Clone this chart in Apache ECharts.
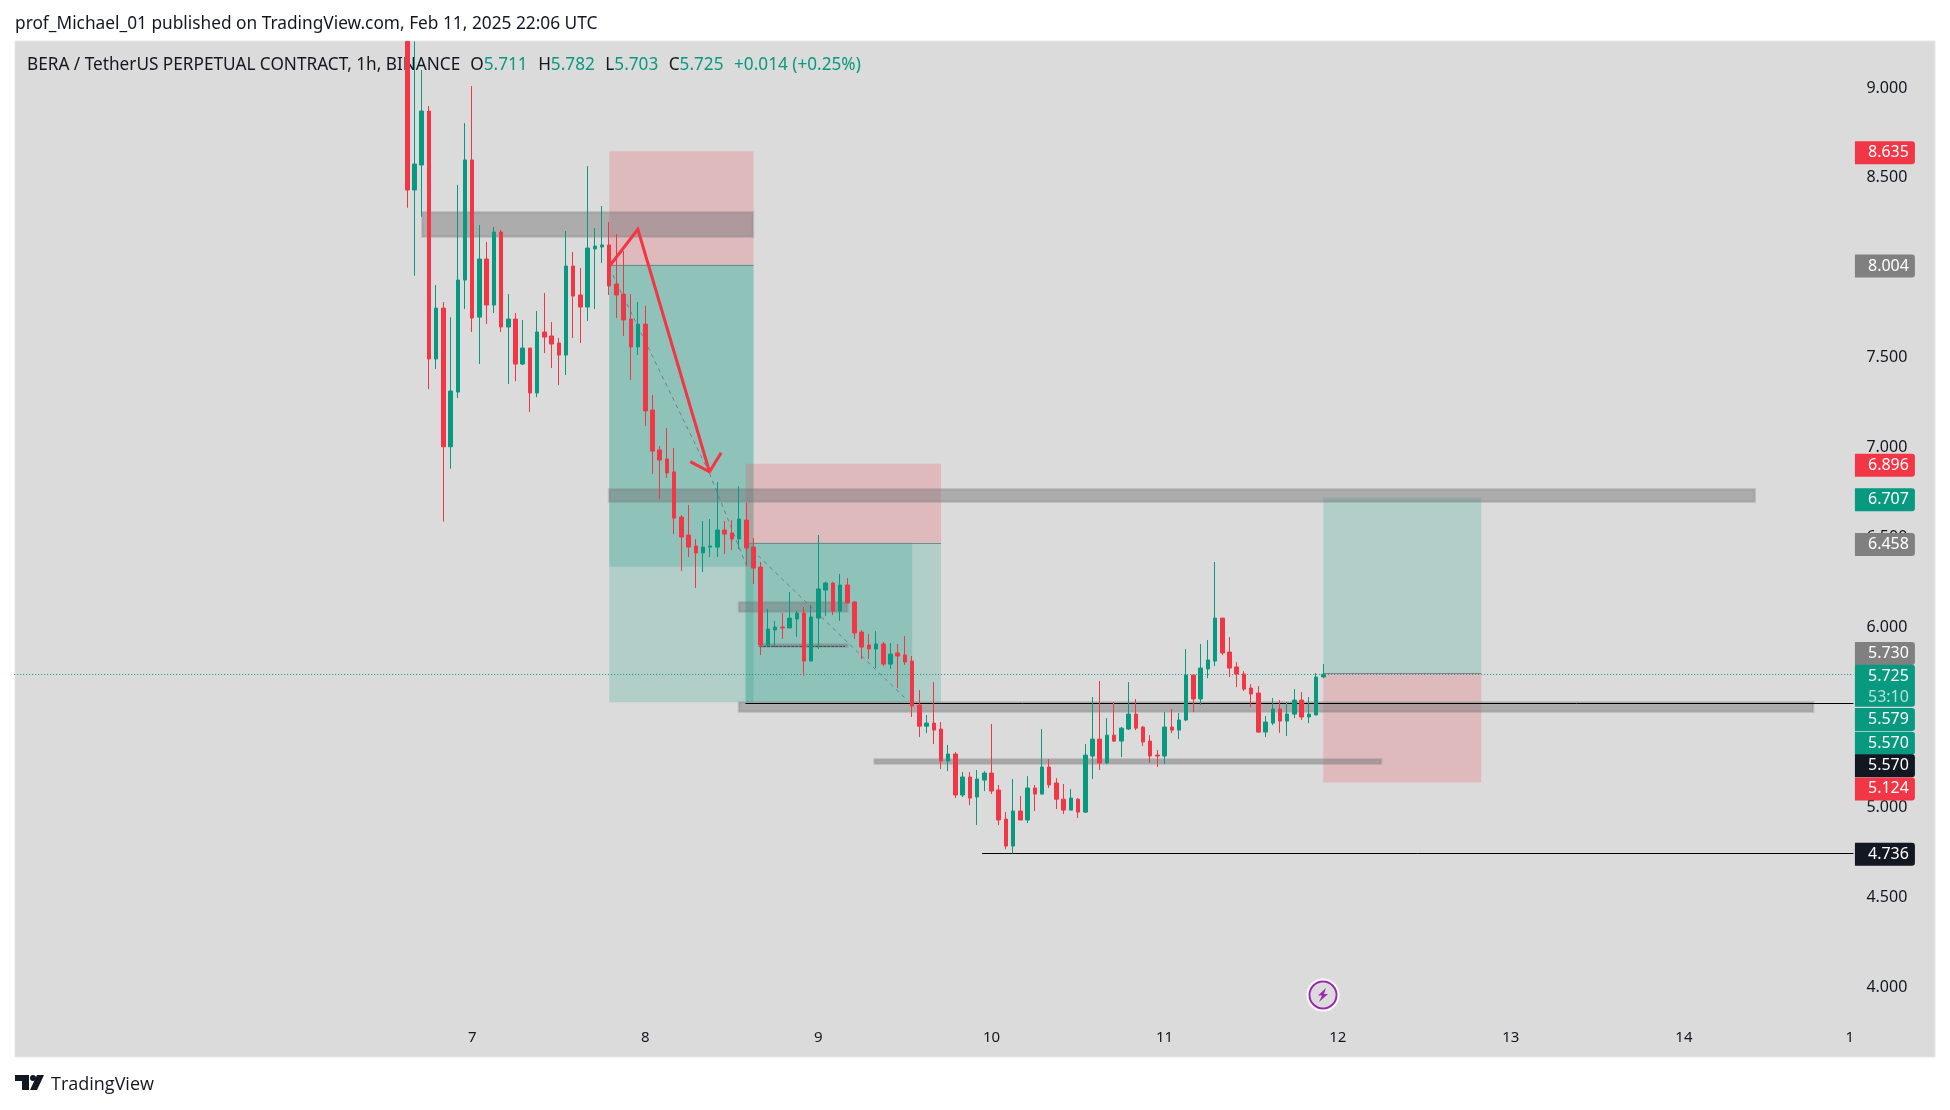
<!DOCTYPE html>
<html><head><meta charset="utf-8">
<style>html,body{margin:0;padding:0;background:#fff}#c{width:1950px;height:1110px}</style>
<script src="https://cdn.jsdelivr.net/npm/echarts@6/dist/echarts.min.js"></script>
</head><body><div id="c"></div>
<script>
// ---------- data ----------
const hourSlots = 255;      // hourly slots on the time axis
const firstCandleSlot = 54; // slot of the first visible candle
const dayTickSlots = [63, 87, 111, 135, 159, 183, 207, 231, 254];
const dayTickLabels = ['7', '8', '9', '10', '11', '12', '13', '14', '1'];
const priceTicks = [4, 4.5, 5, 5.5, 6, 6.5, 7, 7.5, 8, 8.5, 9];

const opens = [9.245,8.419,8.558,8.858,7.479,7.762,6.991,7.295,7.918,8.586,7.712,8.035,7.779,8.185,7.657,7.701,7.451,7.54,7.29,7.629,7.607,7.568,7.501,7.996,7.835,7.768,8.091,8.102,8.113,7.896,7.84,7.701,7.546,7.673,7.195,6.973,6.923,6.851,6.6,6.5,6.439,6.4,6.433,6.433,6.528,6.511,6.478,6.583,6.433,6.322,5.888,5.972,5.988,5.983,6.033,6.066,5.799,6.038,6.194,6.233,6.077,6.222,6.127,5.96,5.888,5.866,5.894,5.782,5.844,5.833,5.799,5.554,5.437,5.454,5.421,5.243,5.282,5.054,5.154,5.043,5.137,5.176,5.082,4.92,4.77,4.965,4.915,5.093,5.059,5.21,5.121,5.031,4.97,5.031,4.959,5.271,5.365,5.232,5.387,5.354,5.421,5.504,5.432,5.354,5.276,5.271,5.432,5.415,5.471,5.721,5.588,5.755,5.799,6.038,5.849,5.766,5.727,5.649,5.621,5.404,5.454,5.532,5.465,5.504,5.582,5.488,5.499,5.711];
const closes = [8.419,8.563,8.858,7.479,7.762,6.991,7.301,7.918,8.586,7.707,8.035,7.779,8.185,7.657,7.701,7.451,7.54,7.29,7.629,7.601,7.562,7.501,7.996,7.829,7.768,8.096,8.107,8.113,7.885,7.835,7.696,7.546,7.673,7.19,6.967,6.917,6.845,6.594,6.489,6.433,6.4,6.433,6.439,6.528,6.505,6.478,6.589,6.428,6.316,5.888,5.977,5.988,5.983,6.038,6.066,5.799,6.044,6.2,6.233,6.077,6.222,6.122,5.955,5.877,5.866,5.894,5.782,5.838,5.827,5.794,5.549,5.437,5.454,5.415,5.243,5.282,5.054,5.154,5.037,5.143,5.176,5.076,4.915,4.77,4.965,4.915,5.093,5.059,5.21,5.11,5.031,4.97,5.037,4.959,5.276,5.365,5.232,5.387,5.354,5.426,5.504,5.426,5.349,5.271,5.271,5.432,5.415,5.471,5.721,5.588,5.76,5.805,6.038,5.844,5.76,5.727,5.643,5.616,5.404,5.46,5.532,5.465,5.504,5.582,5.488,5.504,5.71,5.725];
const highs = [9.245,9.245,9.086,8.886,7.89,7.796,7.711,8.447,8.791,8.997,8.224,8.13,8.213,8.196,7.84,7.735,7.696,7.54,7.746,7.846,7.685,7.596,8.191,8.074,7.985,8.552,8.207,8.33,8.241,8.174,8.079,7.84,7.796,7.774,7.279,6.995,7.095,6.984,6.611,6.667,6.478,6.578,6.589,6.795,6.578,6.583,6.772,6.678,6.483,6.35,6.088,6.022,6.066,6.183,6.077,6.1,6.111,6.5,6.24,6.24,6.283,6.261,6.133,5.972,5.949,5.966,5.905,5.899,5.894,5.938,5.827,5.638,5.499,5.682,5.46,5.332,5.293,5.182,5.182,5.193,5.187,5.449,5.11,4.959,5.143,5.048,5.159,5.11,5.421,5.254,5.148,5.115,5.087,5.037,5.337,5.599,5.688,5.482,5.571,5.432,5.682,5.588,5.437,5.387,5.304,5.515,5.532,5.51,5.866,5.721,5.894,5.916,6.35,6.038,5.932,5.793,5.743,5.671,5.66,5.493,5.593,5.582,5.571,5.643,5.627,5.599,5.732,5.782];
const lows = [8.32,7.942,8.27,7.312,7.423,6.574,6.869,7.262,7.757,7.629,7.451,7.673,7.735,7.629,7.34,7.356,7.445,7.184,7.267,7.512,7.429,7.334,7.39,7.596,7.568,7.69,7.757,8.013,7.835,7.707,7.607,7.362,7.501,7.106,6.839,6.7,6.817,6.506,6.3,6.378,6.205,6.294,6.378,6.378,6.394,6.417,6.422,6.328,6.227,5.833,5.883,5.877,5.922,5.983,5.933,5.718,5.799,5.866,6.05,6.055,6.022,6.12,5.922,5.81,5.81,5.76,5.771,5.755,5.649,5.777,5.488,5.376,5.399,5.337,5.198,5.187,5.037,5.043,4.998,4.887,5.076,5.059,4.887,4.753,4.729,4.915,4.898,4.965,5.059,5.093,4.976,4.948,4.97,4.926,4.954,5.143,5.193,5.226,5.349,5.265,5.415,5.415,5.326,5.232,5.21,5.226,5.398,5.365,5.465,5.515,5.554,5.704,5.771,5.832,5.71,5.654,5.632,5.543,5.399,5.376,5.443,5.399,5.382,5.482,5.471,5.454,5.499,5.703];

// drawn zones: [fromSlot, toSlot, priceA, priceB, kind]
const zoneRows = [
  [82, 102, 8.635, 8.004, 'loss'],
  [82, 102, 8.004, 5.57, 'gain'],
  [82, 102, 8.004, 6.324, 'gain'],
  [100.9, 128, 6.896, 6.458, 'loss'],
  [100.9, 128, 6.458, 5.57, 'gain'],
  [100.9, 124, 6.458, 5.57, 'gain'],
  [181, 202.9, 6.707, 5.73, 'gain'],
  [181, 202.9, 5.73, 5.124, 'loss'],
  [55.9, 102.1, 8.302, 8.152, 'band'],
  [81.8, 241, 6.761, 6.678, 'band'],
  [99.8, 115.2, 6.133, 6.066, 'band'],
  [102.8, 115.2, 5.899, 5.871, 'band'],
  [99.8, 249.1, 5.577, 5.51, 'band'],
  [118.6, 189.2, 5.26, 5.221, 'band']
];
// drawn lines under the candles: [fromSlot, priceA, toSlot, priceB, kind]
const levelRows = [
  [82, 8.004, 102, 8.004, 'entry'],
  [100.9, 6.458, 128, 6.458, 'entry'],
  [181, 5.73, 202.9, 5.73, 'entry'],
  [82.5, 7.946, 95.9, 6.843, 'path'],
  [95.9, 6.843, 101, 6.333, 'path'],
  [101.85, 6.416, 123.3, 5.582, 'path'],
  [102.8, 5.885, 114.7, 5.885, 'inner'],
  [-0.5, 5.725, 254.5, 5.725, 'last'],
  [100.9, 5.566, 254.5, 5.566, 'solid'],
  [133.7, 4.729, 254.5, 4.729, 'solid']
];
const arrowSlots = [82.05, 85.97, 95.9];
const arrowPrices = [7.996, 8.2, 6.852];
const headSlots = [93.23, 95.9, 97.52];
const headPrices = [6.908, 6.852, 6.958];

const tagPrices = [8.635, 8.004, 6.896, 6.707, 6.458, 5.73, 5.725, 5.579, 5.57, 5.57, 5.124, 4.736];
const tagKinds = ['loss', 'grey', 'loss', 'gain', 'grey', 'grey', 'gain', 'gain', 'gain', 'black', 'loss', 'black'];
const tagExtras = ['', '', '', '', '', '', '53:10', '', '', '', '', ''];
const tagNudges = [1.5, 1.5, 1.5, 2, 2, -20, 2, 19, 41, 63.5, 6.5, 2];

const legendName = 'BERA / TetherUS PERPETUAL CONTRACT, 1h, BINANCE';
const legendOHLC = [['O', '5.711'], ['H', '5.782'], ['L', '5.703'], ['C', '5.725']];
const legendChange = '+0.014 (+0.25%)';
const publishedLine = 'prof_Michael_01 published on TradingView.com, Feb 11, 2025 22:06 UTC';
const brandName = 'TradingView';

// ---------- styles ----------
const FONT = '"Noto Sans", Roboto, sans-serif';
const UP = '#089981', DOWN = '#f23645', INK = '#131722';
const zoneStyle = {
  loss: { fill: 'rgba(242,54,69,0.2)' },
  gain: { fill: 'rgba(8,153,129,0.2)' },
  band: { fill: 'rgba(115,115,118,0.45)', stroke: 'rgba(115,115,118,0.25)', lineWidth: 2.5 }
};
const levelStyle = {
  entry: { stroke: '#7f8487', lineWidth: 1 },
  path: { stroke: 'rgba(110,110,110,0.8)', lineWidth: 1, lineDash: [4, 4] },
  inner: { stroke: 'rgba(70,70,70,0.9)', lineWidth: 1, lineDash: [3, 1] },
  last: { stroke: UP, lineWidth: 1, lineDash: [1, 2] },
  solid: { stroke: '#000000', lineWidth: 1 }
};
const tagFill = { loss: DOWN, gain: UP, grey: '#808080', black: '#131722' };

const chart = echarts.init(document.getElementById('c'), null, { renderer: 'canvas' });
const dayLabelBySlot = {};
dayTickSlots.forEach((s, i) => { dayLabelBySlot[s] = dayTickLabels[i]; });
const slotNames = Array.from({ length: hourSlots }, (_, i) => String(i));
const candleRows = opens.map((o, i) => [i + firstCandleSlot, o, closes[i], lows[i], highs[i]]);

const PX_PER_SLOT = 7.2126;
const legendRich = {
  n: { fontFamily: FONT, fontSize: 17.2, fontWeight: 400, color: INK, padding: [0, 10, 0, 0] },
  k: { fontFamily: FONT, fontSize: 17.2, fontWeight: 400, color: INK },
  v: { fontFamily: FONT, fontSize: 17.2, fontWeight: 400, color: UP, padding: [0, 10.5, 0, 0] },
  c: { fontFamily: FONT, fontSize: 17.2, fontWeight: 400, color: UP }
};
const legendText = '{n|' + legendName + '}' +
  legendOHLC.map(p => '{k|' + p[0] + '}{v|' + p[1] + '}').join('') + '{c|' + legendChange + '}';

chart.setOption({
  animation: false,
  backgroundColor: '#ffffff',
  title: [
    { text: publishedLine, left: 15, top: 16, padding: 0, z: 0, textStyle: { fontFamily: FONT, fontSize: 17.3, fontWeight: 400, color: INK } },
    { text: legendText, left: 27, top: 57, padding: 0, z: 0, textStyle: { fontWeight: 400, rich: legendRich } }
  ],
  grid: { left: 14.2, top: 41, width: hourSlots * PX_PER_SLOT, height: 1016, containLabel: false },
  xAxis: [
    {
      type: 'category', data: slotNames, boundaryGap: true,
      axisLine: { show: false }, axisTick: { show: false }, splitLine: { show: false },
      axisLabel: {
        inside: true, margin: 12, interval: i => dayLabelBySlot[i] !== undefined,
        formatter: v => dayLabelBySlot[v] || '',
        color: INK, fontFamily: FONT, fontSize: 15, hideOverlap: false
      }
    },
    { type: 'value', min: -0.5, max: hourSlots - 0.5, show: false }
  ],
  yAxis: {
    type: 'value', position: 'right', min: 3.597, max: 9.2475, scale: true,
    axisLine: { show: false }, axisTick: { show: false }, splitLine: { show: false },
    axisLabel: {
      customValues: priceTicks, margin: 13, align: 'left',
      formatter: v => '{p|' + v.toFixed(3) + '}',
      rich: { p: { color: INK, fontFamily: FONT, fontSize: 16, padding: [5, 0, 0, 0] } }
    }
  },
  graphic: [
    { type: 'rect', z: -10, silent: true, shape: { x: 15, y: 41, width: 1920, height: 1016 }, style: { fill: '#dbdbdb', stroke: '#e6e6e6', lineWidth: 1 } },
    { type: 'circle', z: 30, silent: true, shape: { cx: 1323, cy: 995, r: 14.5 }, style: { fill: 'transparent', stroke: '#ffffff', lineWidth: 4 } },
    { type: 'circle', z: 31, silent: true, shape: { cx: 1323, cy: 995, r: 13.5 }, style: { fill: 'transparent', stroke: '#9c27b0', lineWidth: 2 } },
    { type: 'polygon', z: 31, silent: true, shape: { points: [[1326, 988], [1318, 995.5], [1322, 995.5], [1319, 1002], [1328, 994], [1324, 994]] }, style: { fill: '#9c27b0' } },
    { type: 'polygon', silent: true, shape: { points: [[15, 1075], [29, 1075], [29, 1090], [22, 1090], [22, 1081], [15, 1081]] }, style: { fill: INK } },
    { type: 'circle', silent: true, shape: { cx: 33, cy: 1078, r: 3 }, style: { fill: INK } },
    { type: 'polygon', silent: true, shape: { points: [[37, 1075], [44, 1075], [37, 1090], [30, 1090]] }, style: { fill: INK } },
    { type: 'text', silent: true, style: { x: 51, y: 1085, text: brandName, fontFamily: '"Open Sans", sans-serif', fontSize: 18, fill: INK, verticalAlign: 'middle' } }
  ],
  series: [
    {
      type: 'custom', name: 'zones', z: 1, xAxisIndex: 1, yAxisIndex: 0, silent: true, clip: true,
      data: zoneRows.map(r => r.slice(0, 4)),
      encode: { x: [0, 1], y: [2, 3] },
      renderItem(params, api) {
        const kind = zoneRows[params.dataIndex][4];
        const a = api.coord([api.value(0), api.value(2)]);
        const b = api.coord([api.value(1), api.value(3)]);
        const inset = kind === 'band' ? 1.25 : 0;
        return {
          type: 'rect',
          shape: { x: a[0] + inset, y: a[1] + inset, width: b[0] - a[0] - 2 * inset, height: b[1] - a[1] - 2 * inset },
          style: zoneStyle[kind]
        };
      }
    },
    {
      type: 'custom', name: 'levels', z: 1, xAxisIndex: 1, yAxisIndex: 0, silent: true,
      data: levelRows.map(r => r.slice(0, 4)),
      encode: { x: [0, 2], y: [1, 3] },
      renderItem(params, api) {
        const a = api.coord([api.value(0), api.value(1)]);
        const b = api.coord([api.value(2), api.value(3)]);
        const flat = a[1] === b[1];
        const y1 = flat ? Math.round(a[1]) + 0.5 : a[1];
        const y2 = flat ? y1 : b[1];
        return {
          type: 'line',
          shape: { x1: a[0], y1: y1, x2: b[0], y2: y2 },
          style: Object.assign({ fill: null }, levelStyle[levelRows[params.dataIndex][4]])
        };
      }
    },
    {
      type: 'candlestick', name: 'BERA 1h', z: 2, xAxisIndex: 0, yAxisIndex: 0, silent: true, clip: true,
      barWidth: 4,
      data: candleRows,
      encode: { x: 0, y: [1, 2, 3, 4] },
      itemStyle: { color: UP, color0: DOWN, borderColor: UP, borderColor0: DOWN, borderWidth: 1 }
    },
    {
      type: 'line', name: 'arrow', z: 3, xAxisIndex: 1, yAxisIndex: 0, silent: true, symbol: 'none',
      data: arrowSlots.map((s, i) => [s, arrowPrices[i]]),
      lineStyle: { color: DOWN, width: 3, join: 'miter' }
    },
    {
      type: 'line', name: 'arrow head', z: 3, xAxisIndex: 1, yAxisIndex: 0, silent: true, symbol: 'none',
      data: headSlots.map((s, i) => [s, headPrices[i]]),
      lineStyle: { color: DOWN, width: 3, join: 'miter' }
    },
    {
      type: 'custom', name: 'price tags', z: 6, xAxisIndex: 1, yAxisIndex: 0, silent: true, clip: false,
      data: tagPrices.map(p => [0, p]),
      encode: { x: 0, y: 1 },
      renderItem(params, api) {
        const i = params.dataIndex;
        const cs = params.coordSys;
        const left = cs.x + cs.width + 1.5;
        const cy = api.coord([0, api.value(1)])[1] + tagNudges[i];
        const extra = tagExtras[i];
        const kids = [
          { type: 'rect', shape: { x: left, y: cy - 11.5, width: 60, height: extra ? 42 : 23, r: [0, 3, 3, 0] }, style: { fill: tagFill[tagKinds[i]] } },
          { type: 'text', style: { x: left + 54, y: cy, text: tagPrices[i].toFixed(3), fill: '#ffffff', fontFamily: FONT, fontSize: 16, align: 'right', verticalAlign: 'middle' } }
        ];
        if (extra) kids.push({ type: 'text', style: { x: left + 54, y: cy + 21, text: extra, fill: 'rgba(255,255,255,0.7)', fontFamily: FONT, fontSize: 16, align: 'right', verticalAlign: 'middle' } });
        return { type: 'group', children: kids };
      }
    }
  ]
});
</script></body></html>
